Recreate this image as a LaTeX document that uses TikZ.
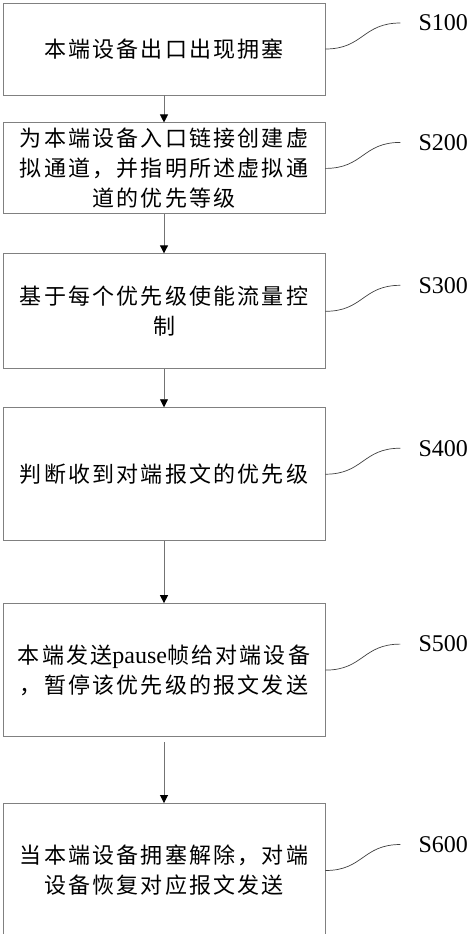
\documentclass[tikz,border=0pt]{standalone}
\usepackage{fontspec}
\setmainfont{Liberation Serif}
\newfontfamily\cjk{Noto Sans CJK SC}[LetterSpace=10]
\usepackage{tikz}
\usetikzlibrary{arrows.meta,positioning,calc}

\begin{document}
\begin{tikzpicture}[x=1pt, y=1pt, node distance=27pt,
  b/.style={draw=black!50, line width=0.9pt, inner sep=0pt, minimum width=322pt,
            align=center, font=\cjk\fontsize{22pt}{30pt}\selectfont},
  lab/.style={inner sep=0pt, anchor=west, font=\fontsize{24pt}{26pt}\selectfont},
  a/.style={-{Triangle[length=8pt, width=8pt, black]}, draw=black!55, line width=0.8pt},
  w/.style={draw=black!75, line width=0.7pt}]
\useasboundingbox (0,0) rectangle (474,-934);
\node[b, minimum height=92pt] (s1) at (164,-49) {本端设备出口出现拥塞};
\node[b, minimum height=91pt, below=27pt of s1] (s2)
  {为本端设备入口链接创建虚\\拟通道，并指明所述虚拟通\\道的优先等级};
\node[b, minimum height=115pt, below=39pt of s2] (s3)
  {基于每个优先级使能流量控\\制};
\node[b, minimum height=133pt, below=38pt of s3] (s4) {判断收到对端报文的优先级};
\node[b, minimum height=133pt, below=62pt of s4] (s5)
  {本端发送{\rmfamily\fontsize{24pt}{30pt}\selectfont pause}帧给对端设备\\，暂停该优先级的报文发送};
\node[b, minimum height=134pt, below=66pt of s5] (s6)
  {当本端设备拥塞解除，对端\\设备恢复对应报文发送};

\foreach \i in {1,...,6} {
  \node[lab, right=93pt of s\i.east, yshift=26pt] (l\i) {S\i00};
  \draw[w] (s\i.east) .. controls +(38,0) and +(-38,0) .. ([xshift=-18pt]l\i.west);
}

\draw[a] (s1) -- (s2);
\draw[a] (s2) -- (s3);
\draw[a] (s3) -- (s4);
\draw[a] (s4) -- (s5);
\draw[a] ([yshift=-5pt]s5.south) -- (s6);
\end{tikzpicture}
\end{document}
